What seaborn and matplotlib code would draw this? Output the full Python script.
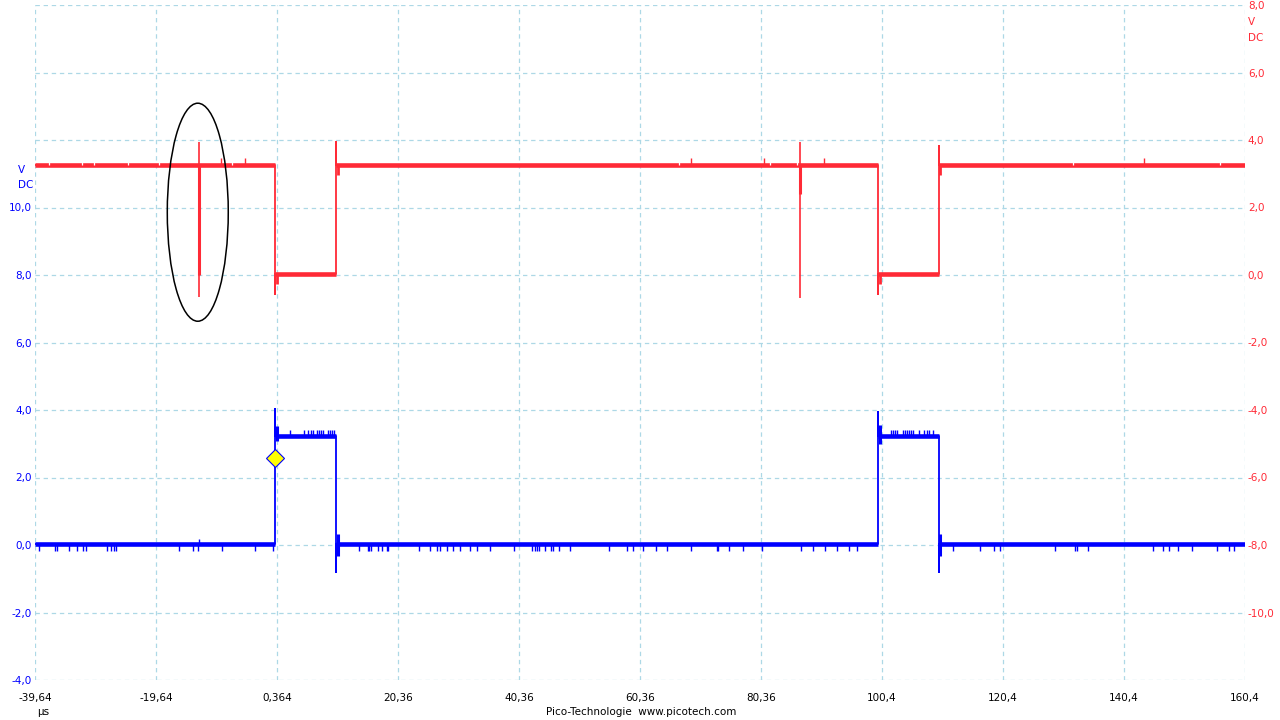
import numpy as np
import pandas as pd
import matplotlib
matplotlib.use("Agg")
import matplotlib.pyplot as plt
from matplotlib.patches import Ellipse
import seaborn as sns

# --- axes ---
x_ticks = [-39.64, -19.64, 0.364, 20.36, 40.36, 60.36, 80.36, 100.4, 120.4, 140.4, 160.4]
x_labels = ["-39,64", "-19,64", "0,364", "20,36", "40,36", "60,36", "80,36",
            "100,4", "120,4", "140,4", "160,4"]
left_ticks = [-4, -2, 0, 2, 4, 6, 8, 10, 12, 14, 16]
left_labels = ["-4,0", "-2,0", "0,0", "2,0", "4,0", "6,0", "8,0", "10,0", "", "", ""]
right_ticks = [-12, -10, -8, -6, -4, -2, 0, 2, 4, 6, 8]
right_labels = ["", "-10,0", "-8,0", "-6,0", "-4,0", "-2,0", "0,0", "2,0", "4,0", "6,0", "8,0"]

# --- signal edges (us) ---
edge_t = [0.1, 10.2, 99.8, 109.75]

# channel B (red, right axis)
red_levels = [3.25, 0.03, 3.25, 0.03, 3.25]
red_overshoot = [-0.55, 3.93, -0.55, 3.82]
red_settle = [-0.26, 2.95, -0.26, 2.95]
red_spike_t = [-12.6, 86.85]
red_spike_top = [3.93, 3.93]
red_spike_bot = [-0.66, -0.67]
red_spike_mid = [0.0, 2.4]
red_up_t = [-8.84, -4.87, 68.89, 80.88, 90.80, 143.77]
red_notch_t = [-37.38, -31.82, -29.94, -24.31, -19.19, -7.02, 66.79, 81.84, 86.32, 131.96, 156.33]

# channel A (blue, left axis)
blue_levels = [0.03, 3.23, 0.03, 3.23, 0.03]
blue_overshoot = [4.03, -0.79, 3.94, -0.79]
blue_settle_lo = [3.07, -0.33, 3.0, -0.33]
blue_settle_hi = [3.52, 0.33, 3.55, 0.33]
blue_down_t = [-39.0, -36.3, -36.0, -34.1, -32.7, -31.7, -31.2, -27.7, -27.0, -26.6, -26.3,
               -15.8, -13.6, -12.7, -8.7, -3.2, -0.3, 14.0, 15.4, 15.6, 15.9, 17.0, 17.8,
               18.5, 18.7, 23.9, 25.6, 26.9, 27.3, 28.4, 29.5, 30.7, 32.2, 33.4, 35.5, 39.6,
               42.6, 43.0, 43.3, 43.6, 44.6, 45.7, 46.0, 47.0, 48.8, 55.3, 58.3, 59.3, 60.8,
               63.1, 64.8, 68.8, 73.1, 73.3, 75.1, 77.4, 80.6, 87.0, 88.9, 91.0, 93.0, 95.0,
               96.3, 112.2, 116.6, 118.9, 119.9, 129.0, 132.3, 132.7, 134.4, 145.2, 146.9,
               147.9, 149.4, 151.6, 155.7, 157.8, 158.6]
blue_top_up_t = [2.52, 4.88, 5.44, 5.99, 6.27, 6.93, 7.31, 7.64, 7.97, 8.85, 9.13, 9.41, 9.74,
                 101.83, 102.2, 102.54, 102.87, 103.86, 104.19, 104.52, 104.85, 105.13,
                 105.46, 106.55, 107.33, 107.78, 108.11, 108.77]
crosstalk_t = [-12.6]
trigger_t, trigger_v = 0.1, 2.58

RED = "#ff2a36"
BLUE = "#0000ff"
GRID = "#add8e6"
t0, t1 = x_ticks[0], x_ticks[-1]


def trace(levels, overs):
    t, v = [t0], [levels[0]]
    for i, e in enumerate(edge_t):
        t += [e, e, e]
        v += [levels[i], overs[i], levels[i + 1]]
    t.append(t1)
    v.append(levels[-1])
    return pd.DataFrame({"t": t, "v": v})


def segments():
    bounds = [t0] + edge_t + [t1]
    return bounds[:-1], bounds[1:]


sns.set_theme(style="white")
plt.rcParams["font.family"] = ["DejaVu Sans"]

fig = plt.figure(figsize=(12.8, 7.2), dpi=100)
ax = fig.add_axes([35 / 1280, 40 / 720, 1210 / 1280, 675 / 720])
ax2 = ax.twinx()

# blue channel
sns.lineplot(data=trace(blue_levels, blue_overshoot), x="t", y="v", ax=ax, color=BLUE,
             lw=1.3, estimator=None, sort=False, legend=False)
starts, ends = segments()
ax.hlines(blue_levels, starts, ends, color=BLUE, lw=3.3)
ax.vlines(blue_down_t, [0.03] * len(blue_down_t), [-0.17] * len(blue_down_t), color=BLUE, lw=1.0)
ax.vlines(blue_top_up_t, [3.23] * len(blue_top_up_t), [3.4] * len(blue_top_up_t), color=BLUE, lw=1.0)
ax.vlines(crosstalk_t, [0.03], [0.18], color=BLUE, lw=1.0)
ax.vlines([e + 0.3 for e in edge_t], blue_settle_lo, blue_settle_hi, color=BLUE, lw=2.2)
ax.plot([trigger_t], [trigger_v], marker="D", ms=9.5, mfc="#ffff00", mec=BLUE, mew=0.8,
        ls="none", zorder=5)

# red channel
sns.lineplot(data=trace(red_levels, red_overshoot), x="t", y="v", ax=ax2, color=RED,
             lw=1.3, estimator=None, sort=False, legend=False)
ax2.hlines(red_levels, starts, ends, color=RED, lw=3.3)
ax2.vlines([e + 0.3 for e in edge_t], [red_levels[i + 1] for i in range(4)], red_settle,
           color=RED, lw=2.0)
ax2.vlines(red_spike_t, red_spike_bot, red_spike_top, color=RED, lw=1.2)
ax2.vlines(red_spike_t, red_spike_mid, [3.25, 3.25], color=RED, lw=2.2)
ax2.vlines(red_up_t, [3.25] * len(red_up_t), [3.47] * len(red_up_t), color=RED, lw=1.0)
ax2.vlines(red_notch_t, [3.27] * len(red_notch_t), [3.34] * len(red_notch_t), color="white", lw=0.9)

# ellipse marking the glitch
ax2.add_patch(Ellipse((-12.73, 1.86), 10.08, 6.46, fill=False, ec="black", lw=1.1, zorder=6))

# axes setup
ax.set_xlim(t0, t1)
ax.set_ylim(-4, 16)
ax2.set_ylim(-12, 8)
ax.set_xticks(x_ticks)
ax.set_xticklabels(x_labels)
ax.set_yticks(left_ticks)
ax.set_yticklabels(left_labels)
ax2.set_yticks(right_ticks)
ax2.set_yticklabels(right_labels)
ax.set_xlabel("")
ax.set_ylabel("")
ax2.set_ylabel("")
ax.tick_params(axis="x", length=0, pad=9, labelsize=7.5, labelcolor="black")
ax.tick_params(axis="y", length=0, pad=2, labelsize=7.5, labelcolor=BLUE)
ax2.tick_params(axis="y", length=0, pad=2, labelsize=7.5, labelcolor=RED)
ax.grid(True, color=GRID, ls=(0, (3.5, 3)), lw=0.9)
ax.set_axisbelow(True)
for a in (ax, ax2):
    for s in a.spines.values():
        s.set_visible(False)
ax2.grid(False)

fig.text(18 / 1280, 1 - 170 / 720, "V", color=BLUE, fontsize=7.5, va="center", ha="left")
fig.text(18 / 1280, 1 - 185 / 720, "DC", color=BLUE, fontsize=7.5, va="center", ha="left")
fig.text(1248 / 1280, 1 - 22 / 720, "V", color=RED, fontsize=7.5, va="center", ha="left")
fig.text(1248 / 1280, 1 - 38 / 720, "DC", color=RED, fontsize=7.5, va="center", ha="left")
fig.text(37 / 1280, 1 - 712 / 720, "µs", color="black", fontsize=7.5, va="center", ha="left")
fig.text(641 / 1280, 1 - 712 / 720, "Pico-Technologie  www.picotech.com", color="black",
         fontsize=7.5, va="center", ha="center")

fig.savefig("out.png", dpi=100)
